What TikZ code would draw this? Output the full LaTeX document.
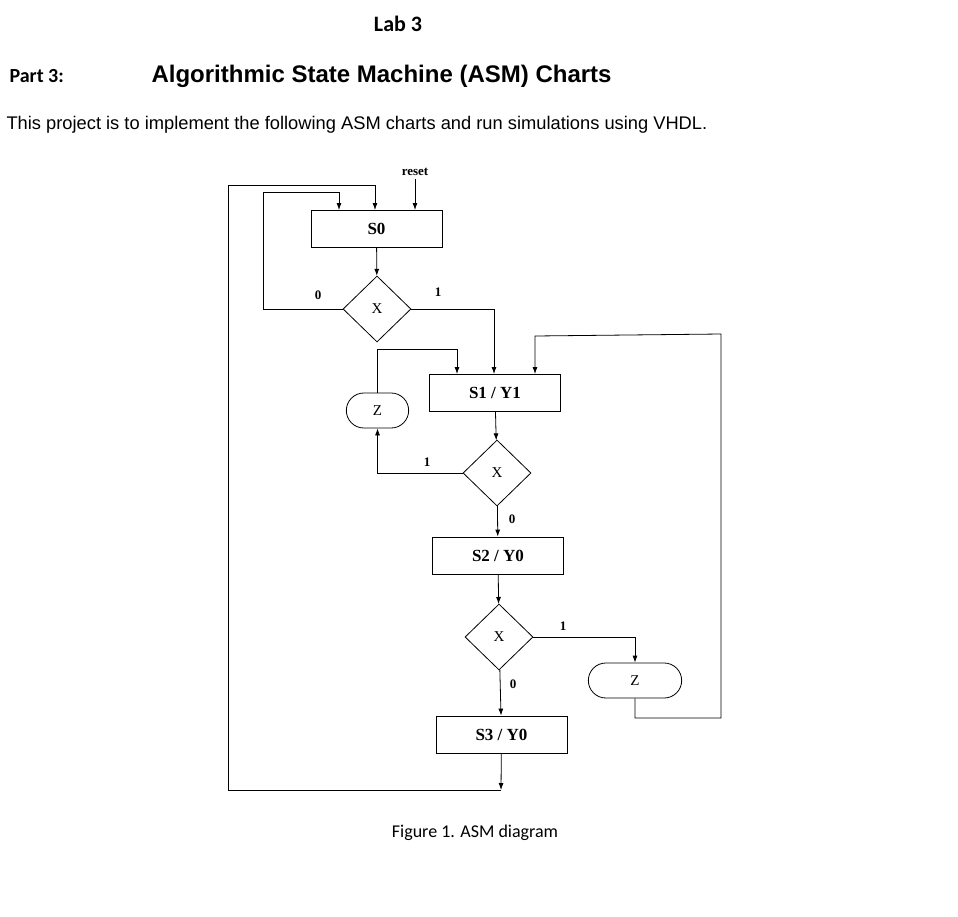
\documentclass[tikz,border=0pt]{standalone}
\usepackage{fontspec}
\setmainfont{Liberation Serif}
\newfontfamily\calfnt{Carlito}
\newfontfamily\arifnt{Liberation Sans}
\usetikzlibrary{shapes.geometric,shapes.misc,arrows.meta}
\begin{document}
\begin{tikzpicture}[x=1pt,y=-1pt,
  st/.style={draw,thick,minimum width=131pt,minimum height=37pt,font=\bfseries\fontsize{17}{17}\selectfont},
  dec/.style={draw,thick,diamond,minimum width=68pt,minimum height=66pt,inner sep=0pt,font=\fontsize{15}{15}\selectfont},
  outbox/.style={draw,thick,rounded rectangle,minimum height=35pt,font=\fontsize{15}{15}\selectfont},
  lb/.style={font=\bfseries\fontsize{13}{13}\selectfont},
  ar/.style={thick,-{Latex[length=7pt,width=5pt]}}]
\useasboundingbox (0,0) rectangle (958,916);
\node[font=\calfnt\bfseries\fontsize{22}{22}\selectfont] (lab) at (398,24) {Lab 3};
\node[font=\calfnt\bfseries\fontsize{20}{20}\selectfont,anchor=west] (part) at (6,76) {Part 3:};
\node[font=\arifnt\bfseries\fontsize{24}{24}\selectfont,anchor=west] (title) at (148,76) {Algorithmic State Machine (ASM) Charts};
\node[font=\arifnt\fontsize{18.3}{18.3}\selectfont,anchor=west] (intro) at (3,125) {This project is to implement the following ASM charts and run simulations using VHDL.};
\node[font=\calfnt\fontsize{18}{18}\selectfont] (cap) at (475,833) {Figure 1. ASM diagram};

\node[st] (s0) at (376.5,228.5) {S0};
\node[dec] (d0) at (377,309) {X};
\node[st] (s1) at (495,392.5) {S1 / Y1};
\node[outbox,minimum width=69pt] (z1) at (377.5,410.5) {Z};
\node[dec] (d1) at (497,473) {X};
\node[st] (s2) at (498,555.5) {S2 / Y0};
\node[dec] (d2) at (499,637) {X};
\node[outbox,minimum width=100pt] (z2) at (635,680.5) {Z};
\node[st] (s3) at (501.5,734.5) {S3 / Y0};

\node[lb] (reset) at (415,172) {reset};
\node[lb] (l0a) at (318,295) {0};
\node[lb] (l1a) at (438,292) {1};
\node[lb] (l1b) at (427,462) {1};
\node[lb] (l0b) at (512,519) {0};
\node[lb] (l1c) at (563,626) {1};
\node[lb] (l0c) at (513,684) {0};

\coordinate (ret) at (501,790);
\draw[ar] (reset.south) -- (415,210);
\draw[ar] (s0) -- (d0);
\draw[ar] (d0.west) -- (263,309) -- (263,192) -- (339,192) -- (339,210);
\draw[ar] (d0.east) -- (494,309) -- (494,374);
\draw[ar] (z1.north) |- (457,349) -- (457,374);
\draw[ar] (s1) -- (d1);
\draw[ar] (d1.west) -| (z1.south);
\draw[ar] (d1) -- (s2);
\draw[ar] (s2) -- (d2);
\draw[ar] (d2.east) -| (z2.north);
\draw[ar] (z2.south) |- (721,718) -- (721,334) -- (535,336) -- (535,374);
\draw[ar] (d2) -- (s3);
\draw[ar] (s3) -- (ret);
\draw[ar] (ret) -- (228,790) -- (228,185) -- (375,185) -- (375,210);
\end{tikzpicture}
\end{document}
